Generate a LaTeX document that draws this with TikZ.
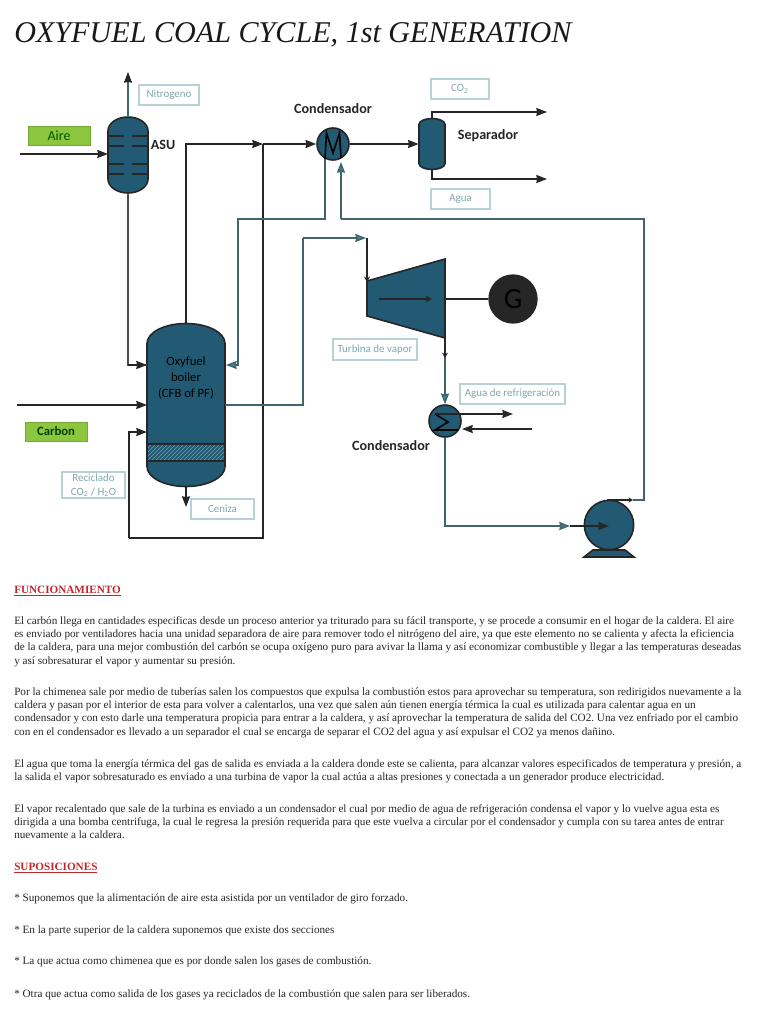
\documentclass[tikz,border=0pt]{standalone}
\usepackage{fontspec}
\setmainfont{Liberation Serif}
\newfontfamily\carlito{Carlito}
\usetikzlibrary{positioning, calc, patterns, arrows.meta}
\definecolor{tealfill}{HTML}{215A72}
\definecolor{tealline}{HTML}{3F666C}
\definecolor{boxline}{HTML}{B7D2D4}
\definecolor{boxtext}{HTML}{7FA8AC}
\definecolor{greenbox}{HTML}{8CC63F}
\definecolor{titlered}{HTML}{C0272D}
\tikzset{
  tank/.style={draw=black!85, line width=1.2pt, fill=tealfill},
  pipe/.style={draw=black!85, line width=1.2pt, -{Stealth[length=8pt,width=6pt,inset=0.6pt]}},
  plain/.style={draw=black!85, line width=1.2pt},
  pipeT/.style={draw=tealline, line width=1.1pt, -{Stealth[length=8pt,width=6pt,inset=0.6pt,fill=tealfill!80!white]}},
  plainT/.style={draw=tealline, line width=1.1pt},
  tube/.style={draw=black, line width=1.2pt},
  labelbox/.style={draw=boxline, line width=.9pt, fill=white, inner sep=0pt, text=boxtext, align=center, font=\carlito\fontsize{8.2}{10.6}\selectfont},
  greenlabel/.style={draw=greenbox!85!black, line width=.5pt, fill=greenbox, inner sep=0pt, font=\carlito\bfseries\fontsize{9.5}{11}\selectfont, text=green!25!black},
  eqname/.style={inner sep=0pt, font=\carlito\bfseries\fontsize{10.6}{12}\selectfont, text=black!85},
  para/.style={anchor=north west, inner sep=0pt, align=left, text=black!85, font=\frenchspacing\fontsize{8.38}{10.05}\selectfont},
  heading/.style={anchor=base west, inner sep=0pt, text=titlered, font=\bfseries\fontsize{8.38}{10}\selectfont},
  note/.style={anchor=base west, inner sep=0pt, text=black!85, font=\fontsize{8.38}{10}\selectfont},
}
% #1 nome, #2 cx, #3 cy, #4 larghezza, #5 altezza, #6 calotta
\newcommand{\tank}[6]{%
  \node[inner sep=0pt, minimum width=#4*0.75pt, minimum height=#5*0.75pt] (#1) at (#2,#3) {};
  \draw[tank] (#2-#4/2,#3-#5/2+#6) arc[start angle=180, end angle=360, x radius=#4/2, y radius=#6]
    -- (#2+#4/2,#3+#5/2-#6) arc[start angle=0, end angle=180, x radius=#4/2, y radius=#6] -- cycle;
}
\newcommand{\labelnode}[6]{%
  \node[#1, minimum width=#5*0.75pt, minimum height=#6*0.75pt] (#2) at (#3,#4)
}
\begin{document}
\begin{tikzpicture}[x=0.75pt, y=-0.75pt]
  \useasboundingbox (0,0) rectangle (768,1024);
  \fill[white] (0,0) rectangle (768,1024);
  %titolo
  \node[anchor=base west, inner sep=0pt, font=\itshape\fontsize{22.6}{26}\selectfont, text=black!90] (titolo) at (14,43) {OXYFUEL COAL CYCLE, 1st GENERATION};

  %punti di giunzione
  \coordinate (nitroOut) at (128,72);
  \coordinate (aireIn) at (20,154);
  \coordinate (asuIn) at (108,154);
  \coordinate (bordoO2) at (147,365);
  \coordinate (bordoCarbon) at (147,405);
  \coordinate (carbonIn) at (17,405);
  \coordinate (bordoRec) at (147,432);
  \coordinate (bordoAcqua) at (226,365);
  \coordinate (bordoVap) at (225,405);
  \coordinate (giunto) at (263,144);
  \coordinate (recBasso) at (263,538);
  \coordinate (recSx) at (129,538);
  \coordinate (condUscita) at (325,159);
  \coordinate (condRitorno) at (341,162);
  \coordinate (vapAlto) at (303,238);
  \coordinate (vapFine) at (366,238);
  \coordinate (co2Fine) at (547,112);
  \coordinate (aguaFine) at (547,179);
  \coordinate (turbIn) at (367,282);
  \coordinate (turbOut) at (445,338);
  \coordinate (asseT) at (445,299);
  \coordinate (refOut) at (513,414);
  \coordinate (refIn) at (462,429);
  \coordinate (refStart) at (532,429);
  \coordinate (pompaIn) at (570,526);
  \coordinate (pompaCentro) at (609,526);
  \coordinate (pompaTop) at (607,500);
  \coordinate (pompaOut) at (633,500);
  \coordinate (pompaDx) at (644,500);
  \coordinate (senzaNome) at (445,358);
  \coordinate (cenizaFine) at (186,507);

  %apparecchi
  \tank{asu}{128}{155}{40}{76}{14}
  \draw[plain] (108,136) --++ (16,0) (132,136) --++ (15,0);
  \draw[plain] (108,146) --++ (16,0) (132,146) --++ (15,0);
  \draw[plain] (108,164) --++ (16,0) (132,164) --++ (15,0);
  \draw[plain] (108,174) --++ (16,0) (132,174) --++ (15,0);

  \tank{boiler}{186}{405}{78}{163}{20}
  \fill[pattern=north east lines, pattern color=tealfill!60!white] (148,444) rectangle (224,461);
  \draw[plain] (147,444) --++ (78,0) (147,461) --++ (78,0);

  \tank{sep}{432}{144}{26}{51}{6}

  \node[circle, draw=black!85, line width=1.2pt, fill=tealfill, minimum size=24pt, inner sep=0pt] (condA) at (333,144) {};
  \node[circle, draw=black!85, line width=1.2pt, fill=tealfill, minimum size=24pt, inner sep=0pt] (condB) at (445,421) {};
  \node[circle, draw=black!85, line width=1.2pt, fill=tealfill, minimum size=37pt, inner sep=0pt] (pompa) at (609,525) {};
  \draw[tank] (584,557) -- (593,550) -- (625,550) -- (634,557) -- cycle;
  \draw[tank] (367,281) -- (445,259) -- (445,338) -- (367,316) -- cycle;
  \node[circle, fill=black!85, minimum size=37pt, inner sep=0pt, font=\carlito\fontsize{22}{24}\selectfont, text=black] (gen) at (513,299) {G};

  %tubi
  \draw[pipe] (aireIn) -- (asuIn);
  \draw[draw=tealline, line width=1.1pt, -{Stealth[length=8pt,width=6pt,inset=0.6pt,color=black!85]}] (asu.north) -- (nitroOut);
  \draw[plainT, draw=black!70] (asu.south) |- (bordoO2);
  \draw[pipe] (128,365) -- (bordoO2);
  \draw[pipe] (boiler.north) |- (giunto);
  \draw[pipe] (giunto) -- (condA.west);
  \draw[plain] (giunto) -- (recBasso) -- (recSx);
  \draw[pipe] (recSx) |- (bordoRec);
  \draw[pipe] (carbonIn) -- (bordoCarbon);
  \draw[pipe] (boiler.south) -- (cenizaFine);
  \draw[pipe] (condA.east) -- (sep.west);
  \draw[pipe] (sep.north) |- (co2Fine);
  \draw[pipe] (sep.south) |- (aguaFine);
  \draw[pipeT] (condUscita) |- (238,219) |- (bordoAcqua);
  \draw[plainT] (bordoVap) -| (vapAlto);
  \draw[pipeT] (vapAlto) -- (vapFine);
  \draw[pipe, -{Stealth[length=4pt,width=4.5pt]}, line width=.9pt] (vapFine -| turbIn) -- (turbIn);
  \draw[pipeT] (turbOut) -- (condB.north);
  \draw[pipe, -{Stealth[length=4pt,width=4.5pt]}, line width=.9pt] (turbOut) -- (senzaNome);
  \draw[plain] (asseT) -- (gen.west);
  \draw[pipeT] (condB.south) |- (pompaIn);
  \draw[pipe] (pompaIn) -- (pompaCentro);
  \draw[pipe, -{Stealth[length=3.5pt,width=4pt]}, line width=.8pt] (pompaTop) -- (pompaOut);
  \draw[plainT] (pompaOut) -- (pompaDx) |- (condRitorno |- 0,219);
  \draw[pipeT] (341,219) -- (condRitorno);
  \draw[pipe] (refStart) -- (refIn);

  %interni
  \draw[pipe, line width=1pt, -{Stealth[length=5pt,width=5pt]}] (379,299) -- (432,299);
  \draw[tube] (325,159) -- (326.5,133) -- (333,153) -- (339.5,133) -- (341,158);
  \draw[pipe] (435,414) -- (refOut);
  \draw[tube] (435,414) -- (448,422) -- (435,430) -- (458,430);

  %etichette
  \labelnode{greenlabel}{aire}{59}{135.5}{62}{19}{\textcolor{green!35!black}{\mdseries\fontsize{10.5}{11}\selectfont Aire}};
  \labelnode{greenlabel}{carbon}{56}{431.5}{62}{19}{Carbon};
  \labelnode{labelbox}{nitro}{169}{95}{60}{20}{Nitrogeno};
  \labelnode{labelbox}{co2}{460}{89}{58}{20}{CO\textsubscript{2}};
  \labelnode{labelbox}{agua}{460.5}{199}{59}{20}{Agua};
  \labelnode{labelbox}{turbina}{375}{349.5}{84}{21}{Turbina de vapor};
  \labelnode{labelbox}{refrig}{512.5}{394}{105}{20}{Agua de refrigeración};
  \labelnode{labelbox}{reciclado}{93.5}{485}{63}{26}{Reciclado\\CO\textsubscript{2} / H\textsubscript{2}O};
  \labelnode{labelbox}{ceniza}{222.5}{509}{63}{20}{Ceniza};

  \node[eqname] (nomeCondA) at (333,109) {Condensador};
  \node[eqname] (nomeCondB) at (391,446) {Condensador};
  \node[eqname] (nomeSep) at (488,136) {Separador};
  \node[eqname] (nomeAsu) at (163,145) {ASU};
  \node[eqname, align=center, font=\carlito\fontsize{9.5}{11.8}\selectfont, text=black] (nomeBoiler) at (186,378) {Oxyfuel\\boiler\\(CFB of PF)};

  %testo
  \node[heading] (funz) at (14,593) {\underline{FUNCIONAMIENTO}};
  \node[para] (par1) at (14,616) {El carbón llega en cantidades especificas desde un proceso anterior ya triturado para su fácil transporte, y se procede a consumir en el hogar de la caldera. El aire\\
es enviado por ventiladores hacia una unidad separadora de aire para remover todo el nitrógeno del aire, ya que este elemento no se calienta y afecta la eficiencia\\
de la caldera, para una mejor combustión del carbón se ocupa oxígeno puro para avivar la llama y así economizar combustible y llegar a las temperaturas deseadas\\
y así sobresaturar el vapor y aumentar su presión.};
  \node[para] (par2) at (14,687) {Por la chimenea sale por medio de tuberías salen los compuestos que expulsa la combustión estos para aprovechar su temperatura, son redirigidos nuevamente a la\\
caldera y pasan por el interior de esta para volver a calentarlos, una vez que salen aún tienen energía térmica la cual es utilizada para calentar agua en un\\
condensador y con esto darle una temperatura propicia para entrar a la caldera, y así aprovechar la temperatura de salida del CO2. Una vez enfriado por el cambio\\
con en el condensador es llevado a un separador el cual se encarga de separar el CO2 del agua y así expulsar el CO2 ya menos dañino.};
  \node[para] (par3) at (14,759) {El agua que toma la energía térmica del gas de salida es enviada a la caldera donde este se calienta, para alcanzar valores especificados de temperatura y presión, a\\
la salida el vapor sobresaturado es enviado a una turbina de vapor la cual actúa a altas presiones y conectada a un generador produce electricidad.};
  \node[para] (par4) at (14,804) {El vapor recalentado que sale de la turbina es enviado a un condensador el cual por medio de agua de refrigeración condensa el vapor y lo vuelve agua esta es\\
dirigida a una bomba centrifuga, la cual le regresa la presión requerida para que este vuelva a circular por el condensador y cumpla con su tarea antes de entrar\\
nuevamente a la caldera.};
  \node[heading] (supos) at (14,870) {\underline{SUPOSICIONES}};
  \node[note] (sup1) at (14,901) {* Suponemos que la alimentación de aire esta asistida por un ventilador de giro forzado.};
  \node[note] (sup2) at (14,933) {* En la parte superior de la caldera suponemos que existe dos secciones};
  \node[note] (sup3) at (14,964) {* La que actua como chimenea que es por donde salen los gases de combustión.};
  \node[note] (sup4) at (14,997) {* Otra que actua como salida de los gases ya reciclados de la combustión que salen para ser liberados.};
\end{tikzpicture}
\end{document}
